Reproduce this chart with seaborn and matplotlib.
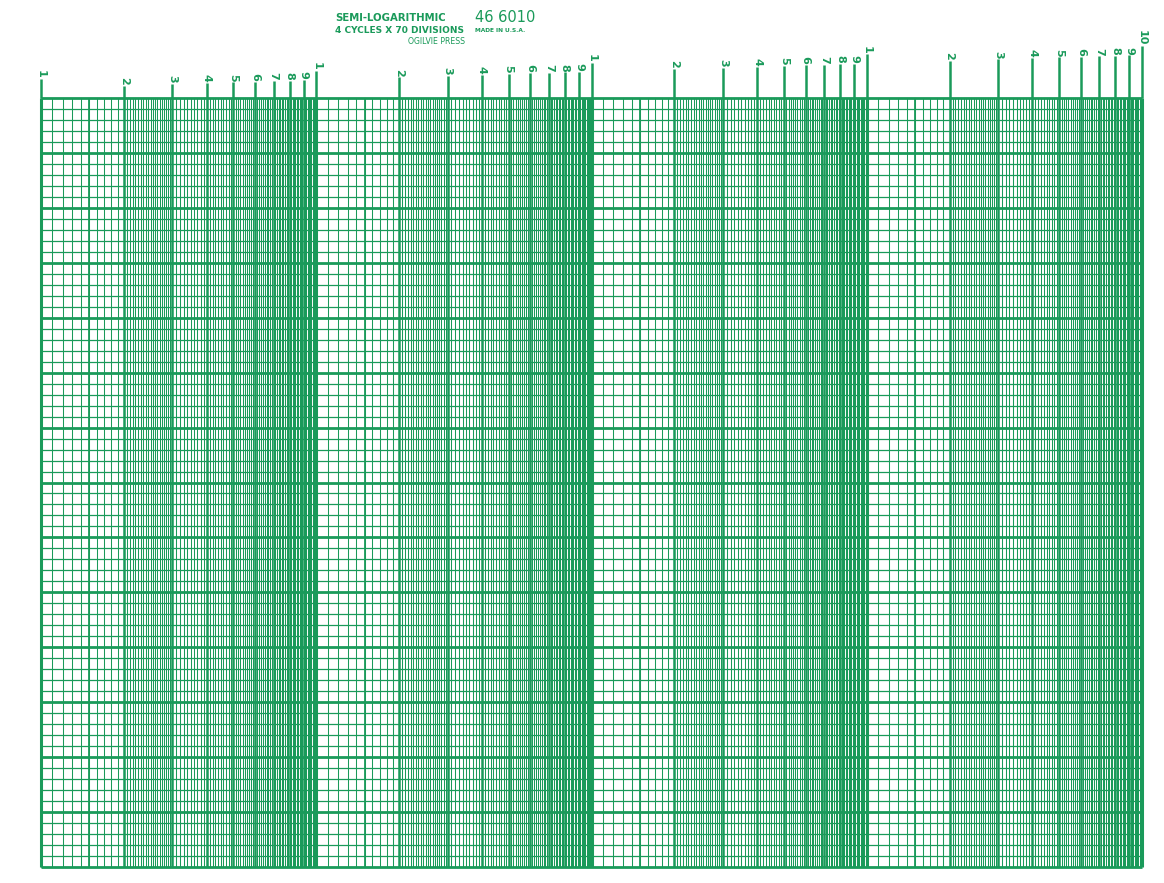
import numpy as np
import matplotlib.pyplot as plt
import seaborn as sns

# semi-log paper: 4 log cycles across, 70 linear divisions down
decade_starts = [1, 10, 100, 1000]
major_digits = [1, 2, 3, 4, 5, 6, 7, 8, 9]
digit_labels = ['1', '2', '3', '4', '5', '6', '7', '8', '9']
end_value = 10000
end_label = '10'
# (from, to, step) of the fine rulings inside one cycle
minor_bands = [(1.0, 2.0, 0.1), (2.0, 3.0, 0.05), (3.0, 10.0, 0.1)]
half_marks = [1.5]
n_divisions = 70
heavy_every = 5

GREEN = '#1a9a5a'


def setup_style():
    '''
    White seaborn theme, no default grid or ticks.
    '''
    sns.set_theme(style='white')
    plt.rcParams['font.family'] = ['DejaVu Sans']


def draw_rulings(ax):
    '''
    Draws the vertical (log) and horizontal (linear) ruling lines.
    '''
    for d in decade_starts:
        for lo, hi, step in minor_bands:
            m = np.round(np.arange(lo, hi, step), 3)
            ax.vlines(d * m, 0, n_divisions, color=GREEN, lw=0.75, clip_on=False)
        ax.vlines([d * h for h in half_marks], 0, n_divisions, color=GREEN, lw=1.3, clip_on=False)
        ax.vlines([d * k for k in major_digits[1:]], 0, n_divisions, color=GREEN, lw=1.8, clip_on=False)
        ax.vlines(d, 0, n_divisions, color=GREEN, lw=2.2, clip_on=False)
    ax.vlines(end_value, 0, n_divisions, color=GREEN, lw=2.2, clip_on=False)

    rows = np.arange(0, n_divisions + 1)
    light = [r for r in rows if r % heavy_every]
    heavy = [r for r in rows if r % heavy_every == 0]
    ax.hlines(light, 1, end_value, color=GREEN, lw=0.9, clip_on=False)
    ax.hlines(heavy, 1, end_value, color=GREEN, lw=2.0, clip_on=False)


def draw_top_scale(ax, axes_px):
    '''
    Cycle numbers along the top edge, with their lead lines.
    The scan is slightly tilted, so lead lines grow to the right.
    '''
    trans = ax.get_xaxis_transform()
    marks = []
    for d in decade_starts:
        for k, lab in zip(major_digits, digit_labels):
            marks.append((d * k, lab, k == 1))
    marks.append((end_value, end_label, True))

    for x, lab, is_cycle in marks:
        frac = np.log10(x) / 4.0
        length = 10 + 33 * frac + (9 if is_cycle else 0)
        top = 1 + length / axes_px
        ax.plot([x, x], [1, top], color=GREEN, lw=1.8, transform=trans, clip_on=False,
                solid_capstyle='butt')
        ax.text(x, top + 1.0 / axes_px, lab, transform=trans, rotation=-90,
                ha='center', va='bottom', fontsize=8, fontweight='bold', color=GREEN)


def draw_header(fig):
    '''
    Printer's imprint above the grid.
    '''
    W, H = 1164, 883
    fig.text(335 / W, 1 - 21 / H, 'SEMI-LOGARITHMIC', fontsize=7.3, fontweight='bold',
             color=GREEN, va='baseline')
    fig.text(335 / W, 1 - 33 / H, '4 CYCLES X 70 DIVISIONS', fontsize=6.5, fontweight='bold',
             color=GREEN, va='baseline')
    fig.text(408 / W, 1 - 44 / H, 'OGILVIE PRESS', fontsize=5.6, color=GREEN, va='baseline')
    fig.text(475 / W, 1 - 22 / H, '46 6010', fontsize=10.5, color=GREEN, va='baseline')
    fig.text(475 / W, 1 - 32 / H, 'MADE IN U.S.A.', fontsize=4.2, fontweight='bold',
             color=GREEN, va='baseline')


setup_style()
fig = plt.figure(figsize=(11.64, 8.83), dpi=100)
left, right, top, bottom = 41, 1142, 98, 867
ax = fig.add_axes([left / 1164, 1 - bottom / 883, (right - left) / 1164, (bottom - top) / 883])
ax.set_xscale('log')
ax.set_xlim(1, end_value)
ax.set_ylim(0, n_divisions)
ax.invert_yaxis()
ax.set_xticks([])
ax.set_yticks([])
ax.minorticks_off()
for s in ax.spines.values():
    s.set_visible(False)

draw_rulings(ax)
draw_top_scale(ax, bottom - top)
draw_header(fig)

fig.savefig('out.png', dpi=100, facecolor='white')
